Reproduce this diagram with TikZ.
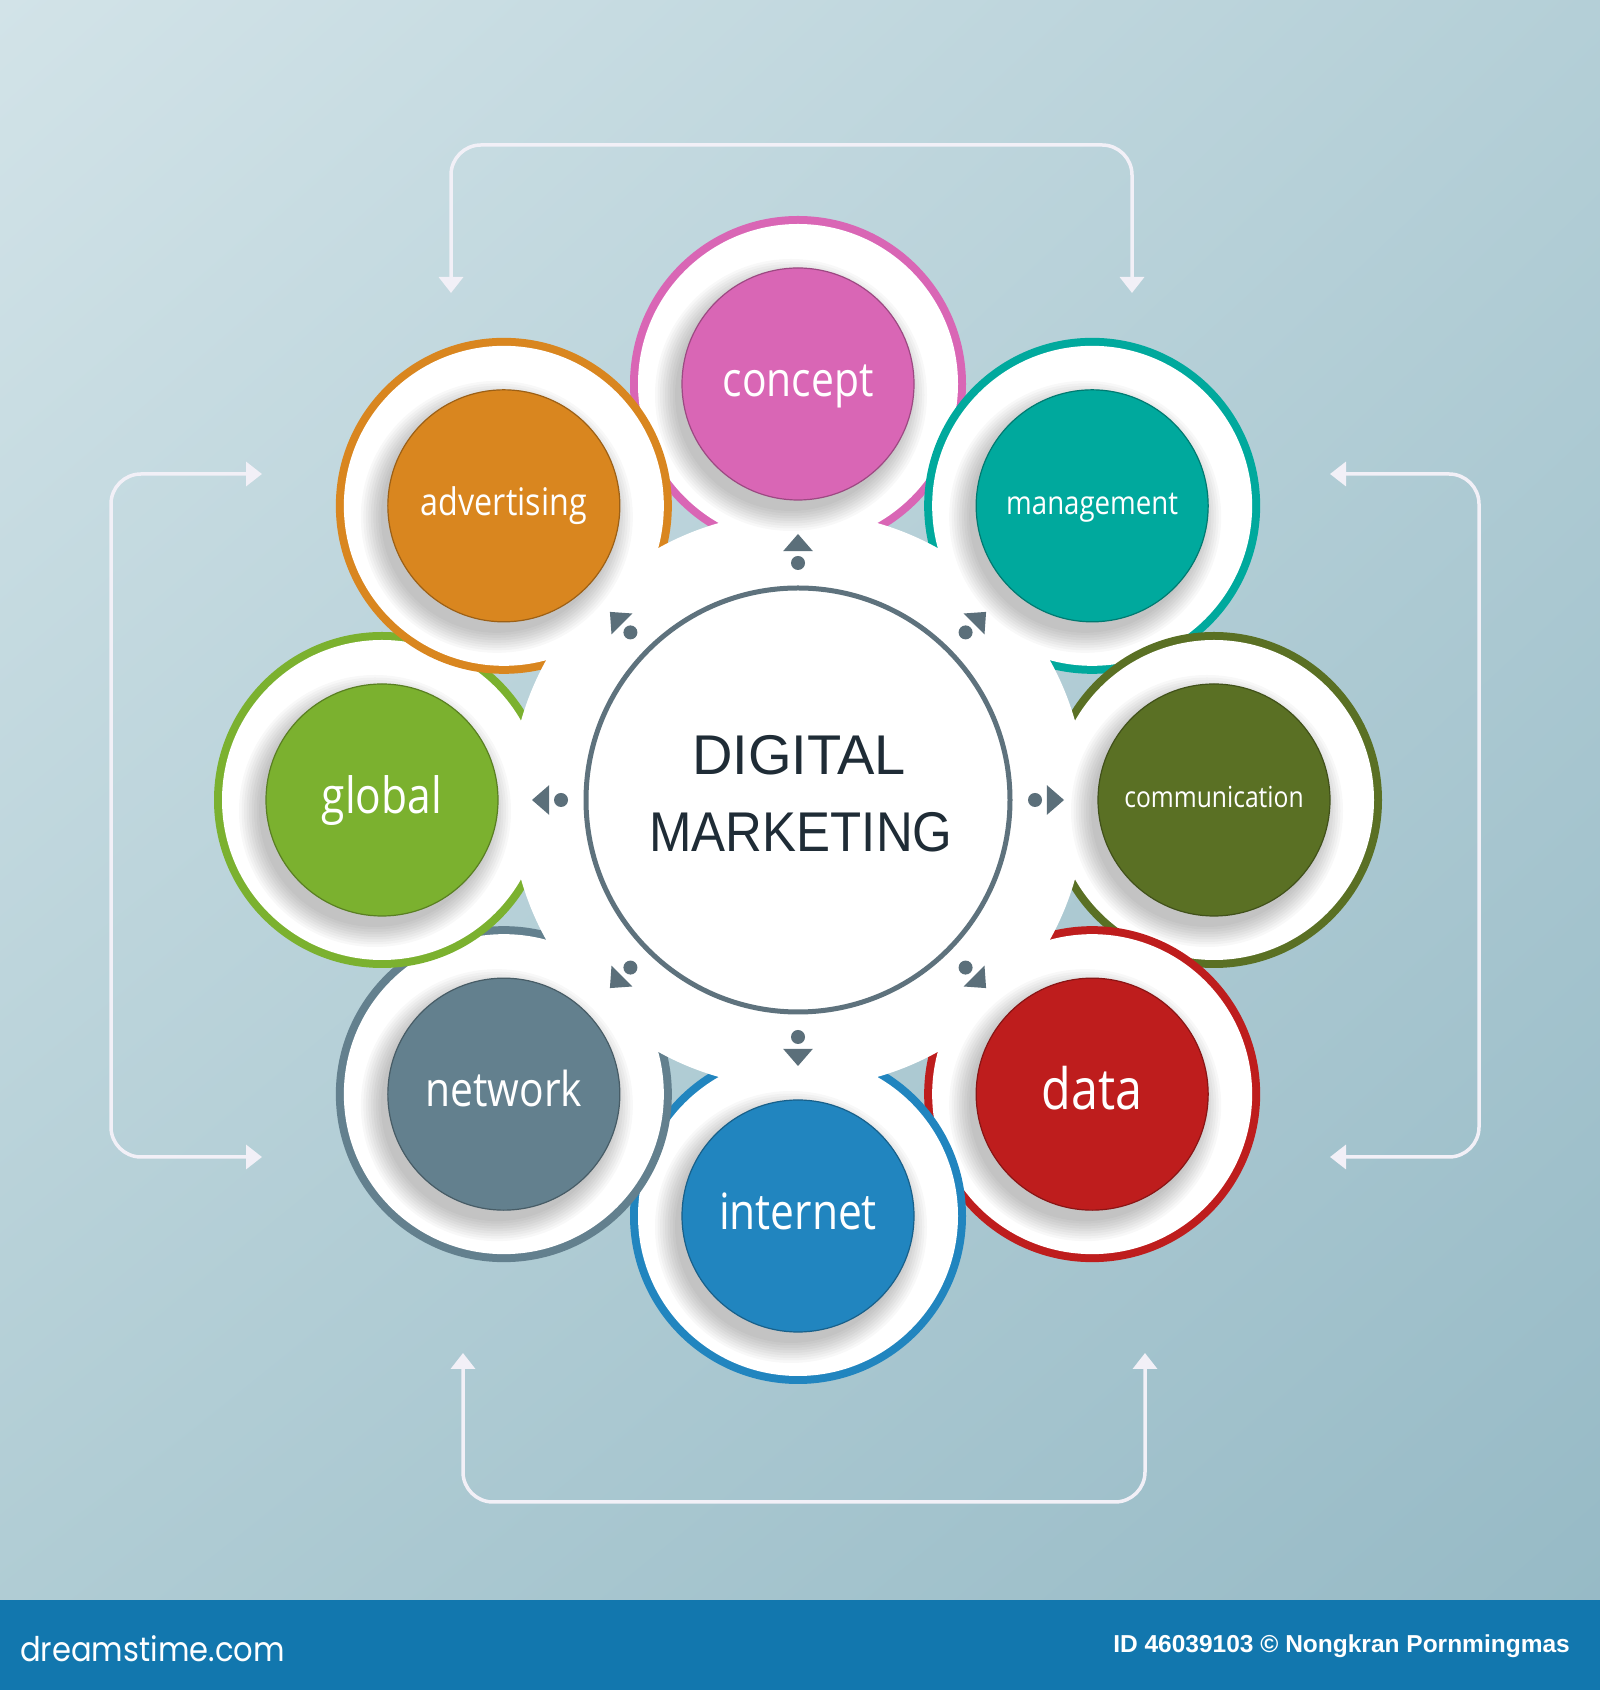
\documentclass[tikz,border=0pt]{standalone}
\usepackage{fontspec}
\setmainfont{Open Sans}
\newfontfamily\lblfont[FakeStretch=0.85]{Open Sans}
\newfontfamily\ctrfontA[FakeStretch=1.0]{Liberation Sans}
\newfontfamily\ctrfontB[FakeStretch=0.91]{Liberation Sans}
\newfontfamily\logofont[FakeStretch=0.9]{Poppins}
\newfontfamily\idfont{Liberation Sans}
\usetikzlibrary{arrows.meta,shadings}
\definecolor{bgTL}{HTML}{D2E3E8}
\definecolor{bgTR}{HTML}{B4CFD7}
\definecolor{bgBL}{HTML}{AECBD3}
\definecolor{bgBR}{HTML}{95B9C5}
\definecolor{brk}{HTML}{F2F0F7}
\definecolor{barblue}{HTML}{1277AE}
\definecolor{ringgray}{HTML}{5E727D}
\definecolor{mkgray}{HTML}{5B6F7A}
\definecolor{ctrtext}{HTML}{1F2C36}
\definecolor{cConcept}{HTML}{D966B5}
\definecolor{cMgmt}{HTML}{00A99D}
\definecolor{cComm}{HTML}{5A7024}
\definecolor{cData}{HTML}{BE1D1D}
\definecolor{cInet}{HTML}{2185BF}
\definecolor{cNetw}{HTML}{63808E}
\definecolor{cGlob}{HTML}{7BB12F}
\definecolor{cAdv}{HTML}{D9861F}
\tikzset{
  bracket/.style={draw=brk, line width=3.5pt, rounded corners=30pt,
    {Triangle[length=16pt,width=24pt]}-{Triangle[length=16pt,width=24pt]}},
  petal/.style={circle, minimum size=232pt, inner sep=0pt, line width=1.2pt},
  lbl/.style={text=white, inner sep=0pt},
  mk/.style={fill=mkgray},
}
\newcommand\DMpetal[5]{%
  \foreach \k in {0,...,8}{\fill[black,opacity=0.026,shift={(C)}] (#2:416) ++(-7,-11) circle[radius={116+2.5*\k}];}
  \node[petal, fill=#3, draw=#3!72!black] (p-#1) at ([shift={(#2:416)}]C) {};
  \node[lbl, font=\lblfont\fontsize{#4}{#4}\selectfont, anchor=base, yshift={-0.2675*#4}] (t-#1) at (p-#1) {#5};
}
\begin{document}
\begin{tikzpicture}[x=1pt,y=1pt]
\useasboundingbox (0,0) rectangle (1600,1690);
\shade[upper left=bgTL, upper right=bgTR, lower left=bgBL, lower right=bgBR] (0,0) rectangle (1600,1690);
\coordinate (C) at (798,890);

% brackets
\coordinate (tA) at (451,1397); \coordinate (tB) at (1132,1397);
\coordinate (lA) at (262,1216); \coordinate (lB) at (262,533);
\coordinate (rA) at (1330,1216); \coordinate (rB) at (1330,533);
\coordinate (bA) at (463,337); \coordinate (bB) at (1145,337);
\draw[bracket] (tA) -- ++(0,148) -| (tB);
\draw[bracket] (lA) -- ++(-151,0) |- (lB);
\draw[bracket] (rA) -- ++(149,0) |- (rB);
\draw[bracket] (bA) -- ++(0,-149) -| (bB);

% outer rings and white discs
\foreach \a/\c in {90/cConcept,45/cMgmt,0/cComm,-45/cData,-90/cInet,-135/cNetw,180/cGlob,135/cAdv}{
  \fill[\c,shift={(C)}] (\a:416) circle[radius=168];
  \fill[white,shift={(C)}] (\a:416) circle[radius=160];
}

% central hub
\node[circle, fill=white, minimum size=576pt, inner sep=0pt] (hub) at (C) {};
\node[circle, draw=ringgray, line width=5pt, minimum size=424pt, inner sep=0pt] (center) at (C) {};
\node[anchor=base, text=ctrtext, font=\ctrfontA\fontsize{56}{56}\selectfont, inner sep=0pt] (dig) at (799,915) {DIGITAL};
\node[anchor=base, text=ctrtext, font=\ctrfontB\fontsize{56}{56}\selectfont, inner sep=0pt] (mkt) at (801,838) {MARKETING};

% markers
\foreach \a in {0,45,...,315}{
  \fill[mk,shift={(C)}] (\a:266) -- ({\a+3.4}:249.4) -- ({\a-3.4}:249.4) -- cycle;
  \fill[mk,shift={(C)}] (\a:237) circle[radius=7];
}

% petals
\DMpetal{concept}{90}{cConcept}{48}{concept}
\DMpetal{management}{45}{cMgmt}{32.5}{management}
\DMpetal{communication}{0}{cComm}{29}{communication}
\DMpetal{data}{-45}{cData}{57}{data}
\DMpetal{internet}{-90}{cInet}{50}{internet}
\DMpetal{network}{-135}{cNetw}{48}{network}
\DMpetal{global}{180}{cGlob}{50}{global}
\DMpetal{advertising}{135}{cAdv}{38}{advertising}

% bottom bar
\fill[barblue] (0,0) rectangle (1600,90);
\node[anchor=base west, text=white, font=\logofont\fontsize{34}{34}\selectfont, inner sep=0pt] (logo) at (20,28) {dreamstime.com};
\node[anchor=base east, text=white, font=\idfont\bfseries\fontsize{24.5}{24.5}\selectfont, inner sep=0pt] (credit) at (1570,37) {ID 46039103 © Nongkran Pornmingmas};
\end{tikzpicture}
\end{document}
